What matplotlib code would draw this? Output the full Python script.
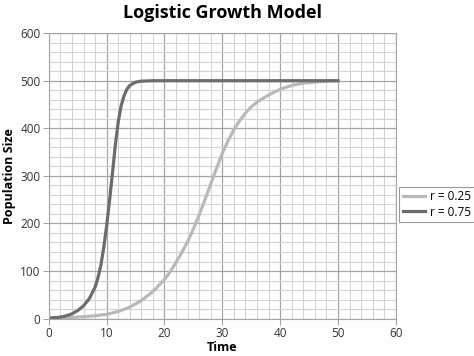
import numpy as np
import matplotlib.pyplot as plt
from matplotlib.ticker import MultipleLocator

# r = 0.25
t_slow = [0, 2, 4, 6, 8, 10, 12, 14, 16, 18, 20, 21, 22, 23, 24, 25, 26, 27,
          28, 29, 30, 31, 32, 33, 34, 35, 36, 38, 40, 42, 44, 46, 48, 50]
n_slow = [1, 1.5, 2.5, 4, 6, 9, 15, 24, 38, 57, 82, 99, 118, 139, 162, 188,
          218, 250, 283, 316, 347, 374, 397, 416, 432, 445, 455, 470, 482,
          490, 495, 497, 499, 500]

# r = 0.75
t_fast = [0, 1, 2, 3, 4, 5, 6, 7, 8, 8.5, 9, 9.5, 10, 10.5, 11, 11.5, 12,
          12.5, 13, 13.5, 14, 15, 16, 18, 20, 30, 40, 50]
n_fast = [1, 2, 3, 6, 10, 17, 27, 42, 66, 86, 112, 150, 195, 248, 305, 365,
          413, 447, 468, 482, 490, 497, 499, 500, 500, 500, 500, 500]

labels = ['r = 0.25', 'r = 0.75']
colors = ['#b9b9b9', '#6c6c6c']

plt.rcParams['font.family'] = ['Open Sans', 'DejaVu Sans']

fig = plt.figure(figsize=(4.74, 3.56), dpi=100)
ax = fig.add_axes([0.103, 0.105, 0.732, 0.802])

ax.plot(t_slow, n_slow, color=colors[0], lw=2.3, label=labels[0])
ax.plot(t_fast, n_fast, color=colors[1], lw=2.3, label=labels[1])

ax.set_xlim(0, 60)
ax.set_ylim(0, 600)
ax.xaxis.set_major_locator(MultipleLocator(10))
ax.xaxis.set_minor_locator(MultipleLocator(2))
ax.yaxis.set_major_locator(MultipleLocator(100))
ax.yaxis.set_minor_locator(MultipleLocator(20))
ax.grid(which='major', color='#a5a5a5', lw=0.9)
ax.grid(which='minor', color='#d3d3d3', lw=0.8)
ax.set_axisbelow(True)
for s in ax.spines.values():
    s.set_color('#a5a5a5')
ax.tick_params(which='major', length=4, color='#a5a5a5', labelsize=8.5,
               labelcolor='#333333', pad=2)
ax.tick_params(which='minor', length=0)

ax.set_title('Logistic Growth Model', fontsize=13, fontweight='bold', pad=11)
ax.set_xlabel('Time', fontsize=9, fontweight='bold', labelpad=1)
ax.set_ylabel('Population Size', fontsize=9, fontweight='bold', labelpad=3)

leg = ax.legend(loc='center left', bbox_to_anchor=(1.003, 0.40), fontsize=8.5,
                frameon=True, fancybox=False, handlelength=1.9,
                borderpad=0.3, labelspacing=0.2, handletextpad=0.4,
                borderaxespad=0.2)
leg.get_frame().set_edgecolor('#808080')
leg.get_frame().set_linewidth(0.8)

fig.savefig('out.png', dpi=100)
